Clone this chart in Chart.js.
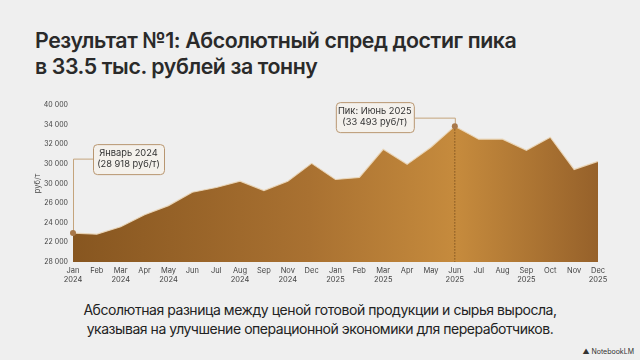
<!DOCTYPE html>
<html>
<head>
<meta charset="utf-8">
<script src="https://cdn.jsdelivr.net/npm/chart.js@4/dist/chart.umd.min.js"></script>
<style>
  html, body { margin: 0; padding: 0; background: #efefef; }
  body { width: 640px; height: 360px; position: relative; overflow: hidden; font-family: Inter, "Noto Sans", sans-serif; }
  #title { position: absolute; left: 35px; top: 27px; font-size: 21.3px; font-weight: 600; line-height: 26px; color: #2a2a2a; letter-spacing: -0.4px; }
  #note { position: absolute; left: 0; width: 640px; top: 300px; text-align: center; font-size: 14px; line-height: 19px; color: #222; letter-spacing: -0.45px; }
  #mark { position: absolute; right: 6px; bottom: 4px; font-size: 7px; color: #333; }
  canvas { position: absolute; left: 0; top: 0; }
</style>
</head>
<body>
<div id="title">Результат №1: Абсолютный спред достиг пика<br>в 33.5 тыс. рублей за тонну</div>
<div id="note">Абсолютная разница между ценой готовой продукции и сырья выросла,<br>указывая на улучшение операционной экономики для переработчиков.</div>
<div id="mark">&#9650; NotebookLM</div>
<canvas id="chart" width="640" height="360"></canvas>
<script>
// months as printed on the axis (October 2024 is absent in the original)
const months = ["Jan", "Feb", "Mar", "Apr", "May", "Jun", "Jul", "Aug", "Sep", "Nov", "Dec",
  "Jan", "Feb", "Mar", "Apr", "May", "Jun", "Jul", "Aug", "Sep", "Oct", "Nov", "Dec"]
const years = ["2024", "", "2024", "", "2024", "", "", "2024", "", "2024", "",
  "2025", "", "2025", "", "", "2025", "", "", "2025", "", "", "2025"]
const spread = [28918, 28875, 29190, 29706, 30093, 30665, 30868, 31139, 30739, 31139, 31901,
  31212, 31298, 32503, 31858, 32589, 33493, 32934, 32934, 32460, 33020, 31642, 31987]
// tick labels exactly as printed, top to bottom
const yTickLabels = ["40 000", "34 000", "32 000", "30 000", "30 000", "26 000", "24 000", "22 000", "28 000"]

const yMin = 27683
const yMax = 34397

const labels = months.map((m, i) => years[i] ? [m, years[i]] : m)
const startIdx = 0
const peakIdx = spread.indexOf(Math.max(...spread))

function fmt(v) {
  return String(v).replace(/\B(?=(\d{3})+(?!\d))/g, " ")
}

const callouts = {
  id: "callouts",
  afterDatasetsDraw(chart) {
    const { ctx, scales: { x, y }, chartArea } = chart
    ctx.save()

    // dotted line under the peak
    const px = x.getPixelForValue(peakIdx)
    const py = y.getPixelForValue(spread[peakIdx])
    ctx.strokeStyle = "rgba(110,70,25,0.8)"
    ctx.lineWidth = 1
    ctx.setLineDash([1.5, 1.5])
    ctx.beginPath()
    ctx.moveTo(px, py)
    ctx.lineTo(px, chartArea.bottom)
    ctx.stroke()
    ctx.setLineDash([])

    function box(left, top, w, h, lines) {
      ctx.fillStyle = "#f4f1ec"
      ctx.strokeStyle = "#b89670"
      ctx.lineWidth = 1
      ctx.beginPath()
      ctx.roundRect(left + 0.5, top + 0.5, w, h, 4)
      ctx.fill()
      ctx.stroke()
      ctx.fillStyle = "#333"
      ctx.font = "9.3px Inter, 'Noto Sans', sans-serif"
      ctx.textAlign = "center"
      ctx.textBaseline = "middle"
      ctx.fillText(lines[0], left + w / 2, top + h / 2 - 5.5)
      ctx.fillText(lines[1], left + w / 2, top + h / 2 + 5.5)
    }

    // January 2024 callout
    const sx = x.getPixelForValue(startIdx)
    const sy = y.getPixelForValue(spread[startIdx])
    ctx.strokeStyle = "#c4a47c"
    ctx.lineWidth = 1
    ctx.beginPath()
    ctx.moveTo(sx + 0.5, sy)
    ctx.lineTo(sx + 0.5, sy - 74)
    ctx.lineTo(sx + 20, sy - 74)
    ctx.stroke()
    box(sx + 20, sy - 89, 71, 30, ["Январь 2024", "(" + fmt(spread[startIdx]) + " руб/т)"])

    // peak callout
    ctx.strokeStyle = "#c4a47c"
    ctx.beginPath()
    ctx.moveTo(px - 40, py - 8)
    ctx.lineTo(px + 0.5, py - 8)
    ctx.lineTo(px + 0.5, py)
    ctx.stroke()
    box(px - 119, py - 24, 78, 30, ["Пик: Июнь 2025", "(" + fmt(spread[peakIdx]) + " руб/т)"])

    // markers
    ctx.fillStyle = "#a8784a"
    ;[[sx, sy], [px, py]].forEach(([cx, cy]) => {
      ctx.beginPath()
      ctx.arc(cx, cy, 3, 0, Math.PI * 2)
      ctx.fill()
    })
    ctx.restore()
  }
}

const ctx = document.getElementById("chart").getContext("2d")
new Chart(ctx, {
  type: "line",
  data: {
    labels,
    datasets: [
      {
        data: spread,
        fill: "start",
        tension: 0,
        borderColor: "rgba(235,215,185,0.9)",
        borderWidth: 1.2,
        pointRadius: 0,
        backgroundColor: (c) => {
          const area = c.chart.chartArea
          if (!area) return "#a87030"
          const g = c.chart.ctx.createLinearGradient(area.left, 0, area.right, 0)
          g.addColorStop(0, "#875620")
          g.addColorStop(0.45, "#a97131")
          g.addColorStop(0.73, "#c68b3d")
          g.addColorStop(1, "#96612a")
          return g
        },
      },
    ],
  },
  options: {
    responsive: false,
    animation: false,
    layout: { padding: { top: 105, left: 20, right: 42, bottom: 68 } },
    plugins: { legend: { display: false }, tooltip: { enabled: false } },
    scales: {
      x: {
        offset: false,
        grid: { display: false, drawTicks: false },
        border: { display: false },
        ticks: {
          autoSkip: false,
          maxRotation: 0,
          padding: 4,
          color: "#444",
          font: { size: 7.5, family: "Inter, 'Noto Sans', sans-serif", lineHeight: 1.2 },
        },
        afterFit: (s) => { s.height = 30 },
      },
      y: {
        min: yMin,
        max: yMax,
        grid: { display: false, drawTicks: false },
        border: { display: false },
        afterBuildTicks: (s) => {
          const n = yTickLabels.length
          s.ticks = yTickLabels.map((_, i) => ({ value: yMin + (yMax - yMin) * i / (n - 1) }))
        },
        ticks: {
          padding: 5,
          color: "#444",
          font: { size: 7, family: "Inter, 'Noto Sans', sans-serif" },
          callback: (v, i, arr) => yTickLabels[arr.length - 1 - i],
        },
        title: {
          display: true,
          text: "руб/т",
          color: "#444",
          font: { size: 7.5, family: "Inter, 'Noto Sans', sans-serif" },
          padding: { top: 13 },
        },
        afterFit: (s) => { s.width = 53 },
      },
    },
  },
  plugins: [callouts],
})
</script>
</body>
</html>
